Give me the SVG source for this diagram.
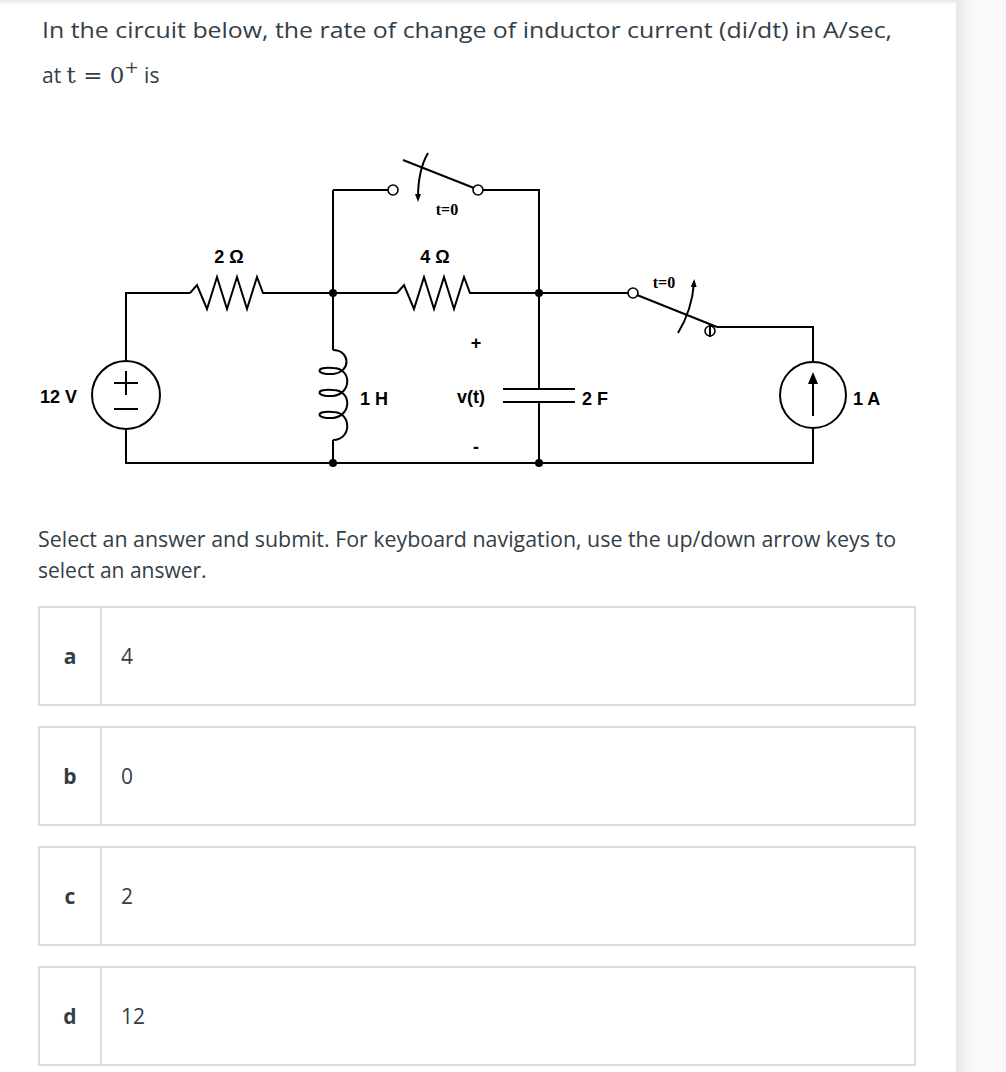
<svg xmlns="http://www.w3.org/2000/svg" width="1006" height="1072" viewBox="0 0 1006 1072">
<defs>
<linearGradient id="sh" x1="0" x2="1" y1="0" y2="0"><stop offset="0" stop-color="#e4e6e9"/><stop offset="0.3" stop-color="#f7f8f9"/><stop offset="1" stop-color="#fafafa"/></linearGradient>
<linearGradient id="tsh" x1="0" x2="0" y1="0" y2="1"><stop offset="0" stop-color="#e8e8e8"/><stop offset="1" stop-color="#ffffff"/></linearGradient>
<marker id="ah" markerWidth="8" markerHeight="8" refX="4" refY="4" orient="auto" markerUnits="userSpaceOnUse"><path d="M0,1 L8,4 L0,7 Z" fill="#000"/></marker>
</defs>
<style>
.w{stroke:#000;stroke-width:2;fill:none}
.dot{fill:#000}
.oc{fill:#fff;stroke:#000;stroke-width:1.6}
.lb{font-family:"Liberation Sans",Arial,sans-serif;font-weight:bold;font-size:18px;fill:#000}
.ts{font-family:"Liberation Serif",serif;font-weight:bold;font-size:16px;fill:#000}
.q{font-family:"Open Sans","Liberation Sans",sans-serif;font-size:21px;fill:#333e48}
.m{font-family:"DejaVu Serif","Liberation Serif",serif}
.box{fill:#fff;stroke:#d9dbde;stroke-width:2}
.let{font-family:"Open Sans","Liberation Sans",sans-serif;font-size:21px;font-weight:bold;fill:#333e48;text-anchor:middle}
.ans{font-family:"Open Sans","Liberation Sans",sans-serif;font-size:21px;fill:#333e48}
</style>
<rect width="1006" height="1072" fill="#fff"/>
<rect x="0" y="0" width="956" height="5" fill="url(#tsh)"/>
<rect x="956" y="0" width="50" height="1072" fill="url(#sh)"/>
<text class="q" x="42" y="38" textLength="850" lengthAdjust="spacingAndGlyphs">In the circuit below, the rate of change of inductor current (di/dt) in A/sec,</text>
<text class="q" x="42" y="83">at <tspan class="m" font-size="23">t = 0</tspan><tspan class="m" font-size="17" dy="-10">+</tspan><tspan dy="10"> is</tspan></text>

<g id="connectors">
<path class="w" d="M126,361 V293 H190 M268,293 H397 M473,293 H633 M126,429 V463 H813 V428 M813,361 V327 H717"/>
<path class="w" d="M333,190 V350 M333,440 V463 M333,190 H388 M483,190 H539 V389 M539,402 V463"/>
</g>
<g id="v12"><circle class="w" cx="126" cy="395" r="34"/><path class="w" d="M114,383 H138 M126,371 V395 M114,409 H138"/><text class="lb" x="40" y="403">12 V</text></g>
<g id="r2"><path class="w" d="M190,293 L197,285 L207,309 L217,277 L227,309 L237,277 L247,309 L257,277 L263,293 L268,293"/><text class="lb" x="229" y="263" text-anchor="middle">2 Ω</text></g>
<g id="r4"><path class="w" d="M397,293 L404,285 L414,309 L424,277 L434,309 L444,277 L454,309 L464,277 L470,293 L473,293"/><text class="lb" x="435" y="263" text-anchor="middle">4 Ω</text></g>
<g id="l1"><path class="w" d="M333,350 C350,350 352,372 333,374 C315,375 315,366 333,368 C352,368 352,394 333,396 C315,397 315,388 333,390 C352,390 352,416 333,418 C315,419 315,410 333,412 C352,412 352,440 333,440"/><text class="lb" x="360" y="405">1 H</text></g>
<g id="c2"><path class="w" d="M503,389 H575 M503,402 H575"/><text class="lb" x="582" y="405">2 F</text><text class="lb" x="476" y="349" text-anchor="middle" font-size="15">+</text><text class="lb" x="457" y="403">v(t)</text><text class="lb" x="476" y="453" text-anchor="middle">-</text></g>
<g id="sw1"><path class="w" d="M403,160 L474,188"/><path class="w" d="M428,153 Q418,170 418,198" marker-end="url(#ah)"/><circle class="oc" cx="393" cy="190" r="5"/><circle class="oc" cx="478" cy="190" r="5"/><text class="ts" x="447" y="215" text-anchor="middle">t=0</text></g>
<g id="sw2"><path class="w" d="M637,295 L717,327"/><path class="w" d="M678,333 Q692,310 694,283" marker-end="url(#ah)"/><circle class="oc" cx="633" cy="293" r="5"/><circle class="oc" cx="710" cy="331" r="5"/><path class="w" d="M710,325 V337" stroke-width="1.5"/><text class="ts" x="664" y="288" text-anchor="middle">t=0</text></g>
<g id="i1"><circle class="w" cx="813" cy="395" r="33"/><path class="w" d="M813,416 V382"/><path d="M808,384 L813,372 L818,384 Z" class="dot"/><text class="lb" x="853" y="405">1 A</text></g>
<g id="nodes"><circle class="dot" cx="333" cy="293" r="4"/><circle class="dot" cx="539" cy="293" r="4"/><circle class="dot" cx="333" cy="463" r="4"/><circle class="dot" cx="539" cy="463" r="4"/></g>

<text class="q" x="38" y="547" textLength="858" lengthAdjust="spacingAndGlyphs">Select an answer and submit. For keyboard navigation, use the up/down arrow keys to</text>
<text class="q" x="38" y="578">select an answer.</text>

<g id="optA"><rect class="box" x="39" y="607" width="876" height="98"/><line x1="101" y1="607" x2="101" y2="705" stroke="#d9dbde" stroke-width="2"/><text class="let" x="70" y="664">a</text><text class="ans" x="121" y="664">4</text></g>
<g id="optB"><rect class="box" x="39" y="727" width="876" height="98"/><line x1="101" y1="727" x2="101" y2="825" stroke="#d9dbde" stroke-width="2"/><text class="let" x="70" y="784">b</text><text class="ans" x="121" y="784">0</text></g>
<g id="optC"><rect class="box" x="39" y="847" width="876" height="98"/><line x1="101" y1="847" x2="101" y2="945" stroke="#d9dbde" stroke-width="2"/><text class="let" x="70" y="904">c</text><text class="ans" x="121" y="904">2</text></g>
<g id="optD"><rect class="box" x="39" y="967" width="876" height="98"/><line x1="101" y1="967" x2="101" y2="1065" stroke="#d9dbde" stroke-width="2"/><text class="let" x="70" y="1024">d</text><text class="ans" x="121" y="1024">12</text></g>
</svg>
